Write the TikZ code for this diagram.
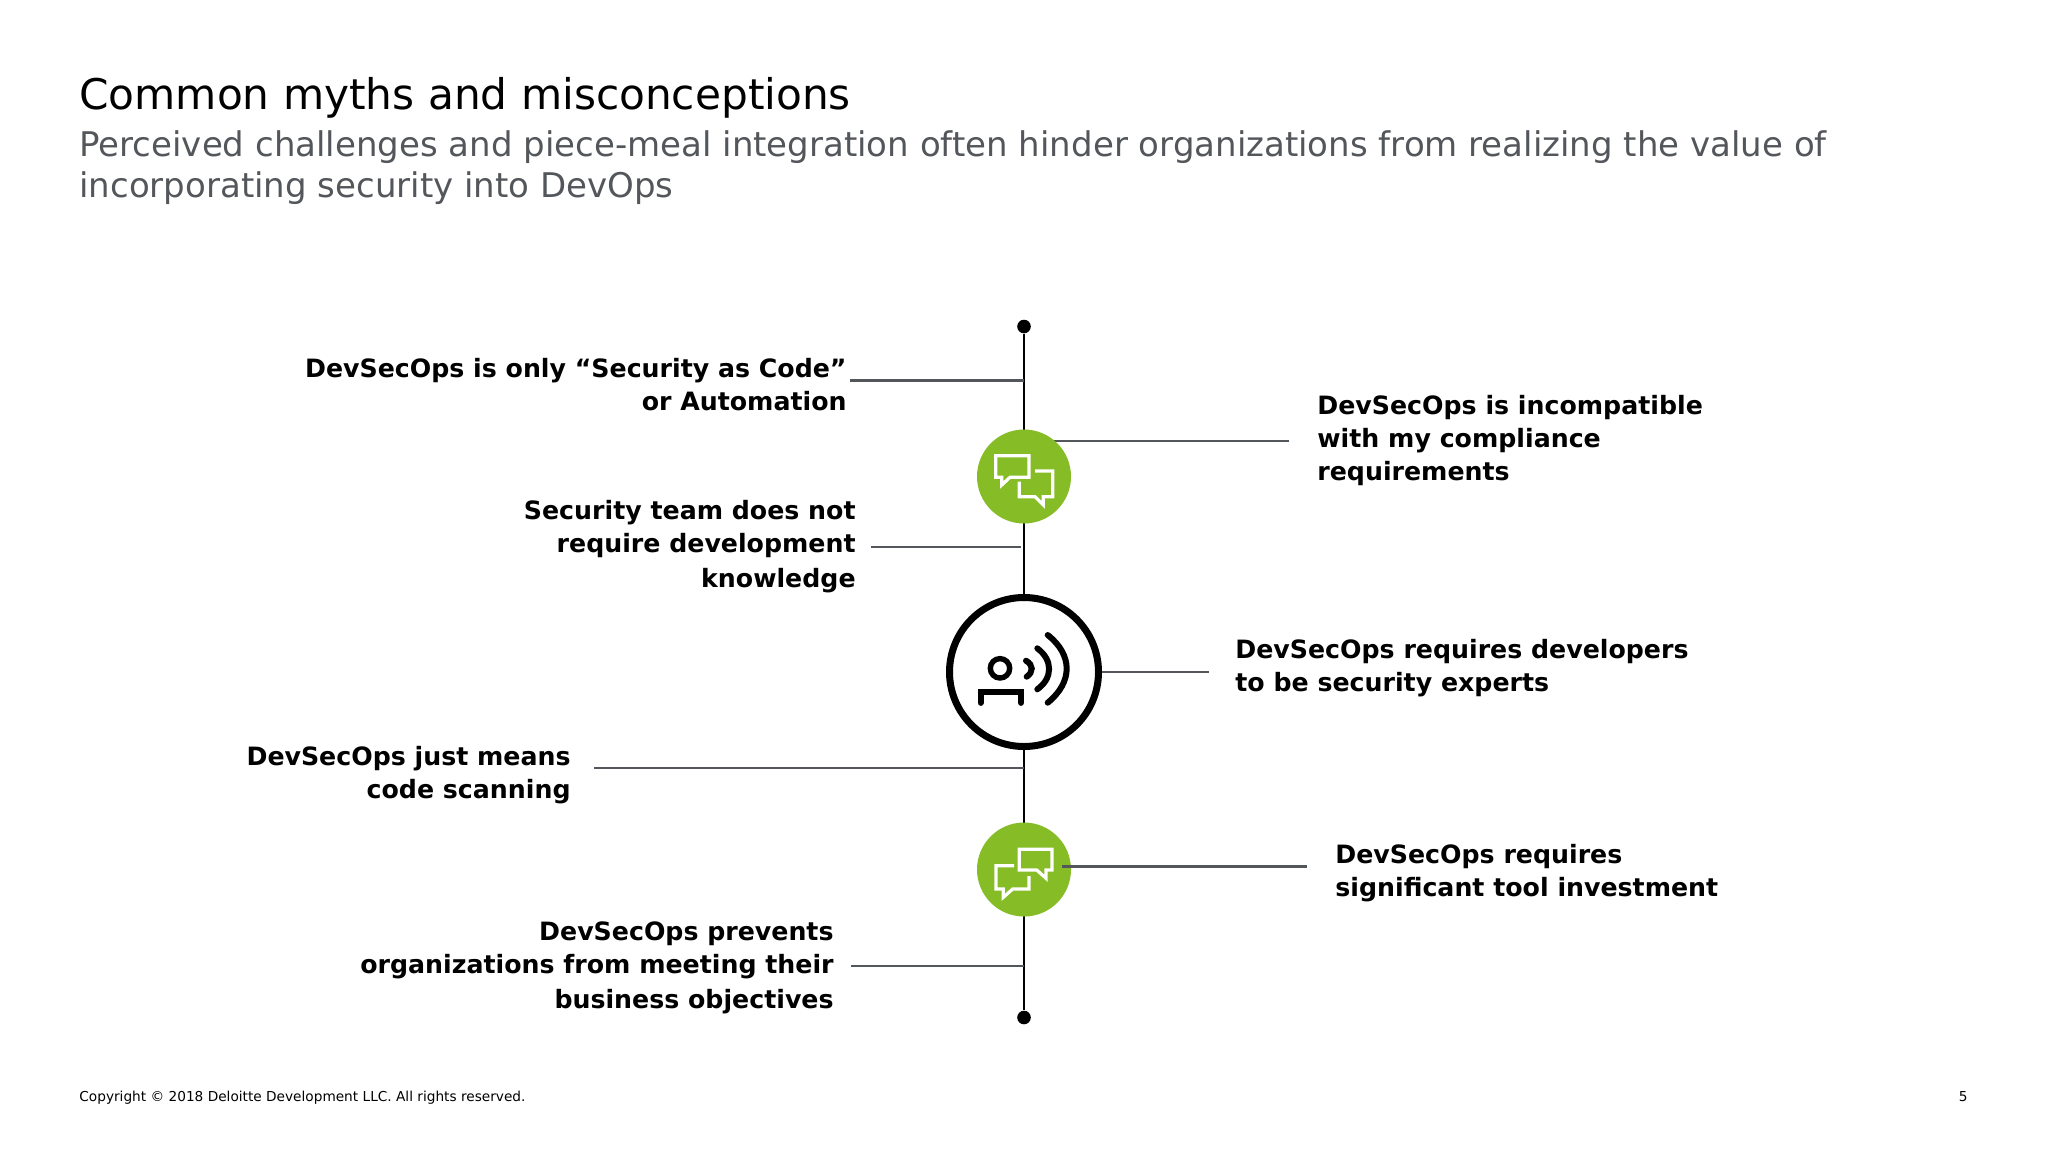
\documentclass[tikz,border=0pt]{standalone}
\usepackage{fontspec}
\setmainfont{DejaVu Sans}
\definecolor{deloitteGreen}{HTML}{86BC25}
\definecolor{slate}{HTML}{53565A}

\begin{document}
\begin{tikzpicture}[
  x=0.5pt,y=-0.5pt,
  title/.style={anchor=west,inner sep=0,font=\fontsize{21.13}{25}\selectfont},
  subtitle/.style={anchor=west,inner sep=0,align=left,text=slate,font=\fontsize{17}{20.75}\selectfont},
  footer/.style={inner sep=0,font=\fontsize{6.84}{8}\selectfont},
  myth left/.style={anchor=east,inner sep=0,align=right,font=\fontsize{12.62}{16.5}\selectfont\bfseries},
  myth right/.style={anchor=west,inner sep=0,align=left,font=\fontsize{12.62}{16.5}\selectfont\bfseries},
  end dot/.style={circle,fill=black,minimum size=6.8pt,inner sep=0},
  talk/.style={circle,fill=deloitteGreen,minimum size=47pt,inner sep=0},
  speaker/.style={circle,draw=black,fill=white,line width=3.5pt,minimum size=74.5pt,inner sep=0},
  spine/.style={draw=black,line width=1.25pt},
  link/.style={draw=slate,line width=0.8pt},
  thick link/.style={draw=slate,line width=1.5pt},
  bubble/.style={draw=white,line width=1.6pt,miter limit=10},
  glyph/.style={draw=black,line width=3pt,line cap=round},
]
  \useasboundingbox (0,0) rectangle (2048,1152);

  \node[title] (head) at (79,98) {Common myths and misconceptions};
  \node[subtitle] (sub) at (79,167.5) {Perceived challenges and piece-meal integration often hinder organizations from realizing the value of\\incorporating security into DevOps};
  \node[footer,anchor=west] (copy) at (79,1098) {Copyright © 2018 Deloitte Development LLC. All rights reserved.};
  \node[footer,anchor=east] (page) at (1968,1097) {5};

  % spine and its two ends
  \node[end dot] (dotTop) at (1024,326.5) {};
  \node[end dot] (dotBottom) at (1024,1017.5) {};
  \draw[spine] (dotTop) -- (dotBottom);

  % left hand myths
  \node[myth left] (mythA) at (847,385) {DevSecOps is only “Security as Code”\\or Automation};
  \node[myth left] (mythB) at (856,547) {Security team does not\\require development\\[1pt]knowledge};
  \node[myth left] (mythC) at (571,775.5) {DevSecOps just means\\code scanning};
  \node[myth left] (mythD) at (834,968) {DevSecOps prevents\\organizations from meeting their\\[1pt]business objectives};

  % right hand myths
  \node[myth right] (mythE) at (1317,440.5) {DevSecOps is incompatible\\with my compliance\\requirements};
  \node[myth right] (mythF) at (1235,668.5) {DevSecOps requires developers\\to be security experts};
  \node[myth right] (mythG) at (1335,873) {DevSecOps requires\\significant tool investment};

  \coordinate (endA) at (850,380);
  \coordinate (endB) at (871,547);
  \coordinate (stopB) at (1021,547);
  \coordinate (endC) at (594,768);
  \coordinate (endD) at (851,966);
  \coordinate (endE) at (1289,441);
  \coordinate (endF) at (1209,672);
  \coordinate (endG) at (1307,866);
  \coordinate (stopG) at (1062,866);

  \draw[thick link] (endA) -- (endA -| dotTop);
  \draw[link] (endB) -- (stopB);
  \draw[link] (endC) -- (endC -| dotTop);
  \draw[link] (endD) -- (endD -| dotTop);
  \draw[link] (endE) -- (endE -| dotTop);

  \node[talk] (talkTop) at (1024,476.5) {};
  \node[talk] (talkBottom) at (1024,869.5) {};
  \node[speaker] (voice) at (1024,672) {};
  \draw[link] (voice.east) -- (endF);
  \draw[thick link] (stopG) -- (endG);

  % upper speech bubbles
  \draw[bubble] (995.7,455.7) -- (1029,455.7) -- (1029,477.3) -- (1010,477.3) -- (1001.7,485) -- (1001.7,477.3) -- (995.7,477.3) -- cycle;
  \draw[bubble] (1035,471) -- (1052.7,471) -- (1052.7,496.7) -- (1043.3,496.7) -- (1043.3,505) -- (1035,496.7) -- (1019.3,496.7) -- (1019.3,481.7);

  % lower speech bubbles
  \draw[bubble] (1019.3,849.3) -- (1052,849.3) -- (1052,870) -- (1046,870) -- (1046,878.3) -- (1036.7,870) -- (1019.3,870) -- cycle;
  \draw[bubble] (1014,865.7) -- (996,865.7) -- (996,889) -- (1003.3,889) -- (1003.3,897.3) -- (1012.7,889) -- (1029,889) -- (1029,876);

  % person and sound waves
  \draw[glyph,line width=2.7pt] (1000,668.3) circle (9.7);
  \draw[glyph,line width=3.2pt] (980.7,702.7) -- (980.7,691.7) -- (1021,691.7) -- (1021,702.7);
  \draw[glyph] (1026,660.7) .. controls (1033.5,665) and (1033.5,672) .. (1026.7,676.7);
  \draw[glyph] (1037.3,648.3) .. controls (1053,660) and (1053,678) .. (1037.3,689.3);
  \draw[glyph] (1047.7,635) .. controls (1073,655) and (1073,682) .. (1047.7,702.7);
\end{tikzpicture}
\end{document}
